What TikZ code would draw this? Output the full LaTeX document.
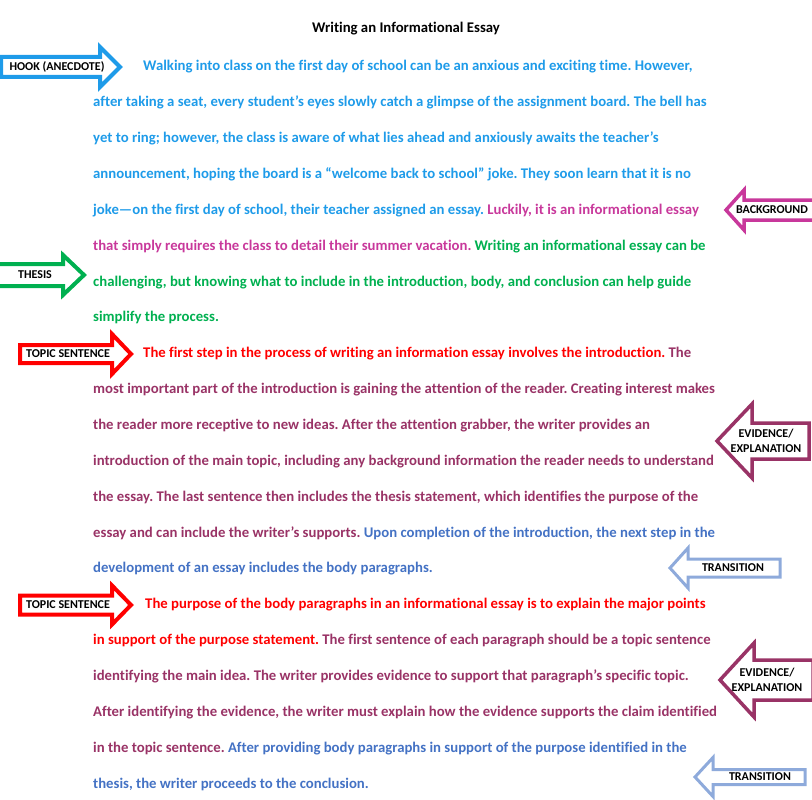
\documentclass[tikz,border=0pt]{standalone}
\usepackage{fontspec}
\setmainfont{Carlito}[RawFeature=-liga]
\usepackage{tikz}
\usetikzlibrary{positioning}
\definecolor{hookblue}{HTML}{1E9BE9}
\definecolor{bgmag}{HTML}{C8389B}
\definecolor{thesisgreen}{HTML}{00B050}
\definecolor{topicred}{HTML}{FF0000}
\definecolor{evplum}{HTML}{993366}
\definecolor{transblue}{HTML}{4472C4}
\definecolor{transarrow}{HTML}{8EAADB}
\tikzstyle{line} = [anchor=base west, inner sep=0pt, font=\fontsize{14.75}{17}\selectfont\bfseries\frenchspacing]
\tikzstyle{tag} = [inner sep=0pt, align=center, font=\fontsize{12}{15}\selectfont\bfseries]
% colour, width, tail x, base x, tip x, y, body half, head half
\newcommand{\callout}[8]{\draw[#1,line width=#2,line join=miter] (#3,{#6-#7}) -- (#4,{#6-#7}) -- (#4,{#6-#8}) -- (#5,#6) -- (#4,{#6+#8}) -- (#4,{#6+#7}) -- (#3,{#6+#7}) -- cycle;}

\begin{document}
\begin{tikzpicture}[x=1pt,y=-1pt]
  \def\lsp{35.85}
  \def\lx{93}
  \useasboundingbox (0,0) rectangle (812,800);
  \node[line,anchor=base] (title) at (406,33) {Writing an Informational Essay};
  % arrows
  \callout{hookblue}{4pt}{1}{100}{120}{67}{10}{20}
  \callout{bgmag}{3.5pt}{815}{744}{726}{210}{10}{20}
  \callout{thesisgreen}{4pt}{-5}{63}{84}{275}{11}{20}
  \callout{topicred}{4pt}{20}{112}{131}{354}{9}{20}
  \callout{evplum}{3.5pt}{809}{752}{717}{441}{18}{37}
  \callout{transarrow}{3pt}{780}{688}{670}{568}{9}{20}
  \callout{topicred}{4pt}{20}{112}{131}{605}{9.5}{19.5}
  \callout{evplum}{3.5pt}{813}{754}{720}{680}{20}{37}
  \callout{transarrow}{3pt}{805}{713}{695}{777}{7.5}{19.5}
  \node[tag] (hook) at (57,67) {HOOK (ANECDOTE)};
  \node[tag] (bg) at (772,210) {BACKGROUND};
  \node[tag] (thesis) at (35,275) {THESIS};
  \node[tag] (topic1) at (68,354) {TOPIC SENTENCE};
  \node[tag] (ev1) at (766,441) {EVIDENCE/\\EXPLANATION};
  \node[tag] (trans1) at (733,568) {TRANSITION};
  \node[tag] (topic2) at (68,605) {TOPIC SENTENCE};
  \node[tag] (ev2) at (767,680) {EVIDENCE/\\EXPLANATION};
  \node[tag] (trans2) at (760,777) {TRANSITION};
  % essay text
  \node[line,hookblue] (l1) at (143,71) {Walking into class on the first day of school can be an anxious and exciting time. However,};
  \node[line,hookblue] (l2) at (\lx,{71+1*\lsp}) {after taking a seat, every student’s eyes slowly catch a glimpse of the assignment board. The bell has};
  \node[line,hookblue] (l3) at (\lx,{71+2*\lsp}) {yet to ring; however, the class is aware of what lies ahead and anxiously awaits the teacher’s};
  \node[line,hookblue] (l4) at (\lx,{71+3*\lsp}) {announcement, hoping the board is a “welcome back to school” joke. They soon learn that it is no};
  \node[line,hookblue] (l5) at (\lx,{71+4*\lsp}) {joke—on the first day of school, their teacher assigned an essay. \color{bgmag}Luckily, it is an informational essay};
  \node[line,bgmag] (l6) at (\lx,{71+5*\lsp}) {that simply requires the class to detail their summer vacation. \color{thesisgreen}Writing an informational essay can be};
  \node[line,thesisgreen] (l7) at (\lx,{71+6*\lsp}) {challenging, but knowing what to include in the introduction, body, and conclusion can help guide};
  \node[line,thesisgreen] (l8) at (\lx,{71+7*\lsp}) {simplify the process.};
  \node[line,topicred] (l9) at (143,{71+8*\lsp}) {The first step in the process of writing an information essay involves the introduction. \color{evplum}The};
  \node[line,evplum] (l10) at (\lx,{71+9*\lsp}) {most important part of the introduction is gaining the attention of the reader. Creating interest makes};
  \node[line,evplum] (l11) at (\lx,{71+10*\lsp}) {the reader more receptive to new ideas. After the attention grabber, the writer provides an};
  \node[line,evplum] (l12) at (\lx,{71+11*\lsp}) {introduction of the main topic, including any background information the reader needs to understand};
  \node[line,evplum] (l13) at (\lx,{71+12*\lsp}) {the essay. The last sentence then includes the thesis statement, which identifies the purpose of the};
  \node[line,evplum] (l14) at (\lx,{71+13*\lsp}) {essay and can include the writer’s supports. \color{transblue}Upon completion of the introduction, the next step in the};
  \node[line,transblue] (l15) at (\lx,{71+14*\lsp}) {development of an essay includes the body paragraphs.};
  \node[line,topicred] (l16) at (145,{71+15*\lsp}) {The purpose of the body paragraphs in an informational essay is to explain the major points};
  \node[line,topicred] (l17) at (\lx,{71+16*\lsp}) {in support of the purpose statement. \color{evplum}The first sentence of each paragraph should be a topic sentence};
  \node[line,evplum] (l18) at (\lx,{71+17*\lsp}) {identifying the main idea. The writer provides evidence to support that paragraph’s specific topic.};
  \node[line,evplum] (l19) at (\lx,{71+18*\lsp}) {After identifying the evidence, the writer must explain how the evidence supports the claim identified};
  \node[line,evplum] (l20) at (\lx,{71+19*\lsp}) {in the topic sentence. \color{transblue}After providing body paragraphs in support of the purpose identified in the};
  \node[line,transblue] (l21) at (\lx,{71+20*\lsp}) {thesis, the writer proceeds to the conclusion.};
\end{tikzpicture}
\end{document}
